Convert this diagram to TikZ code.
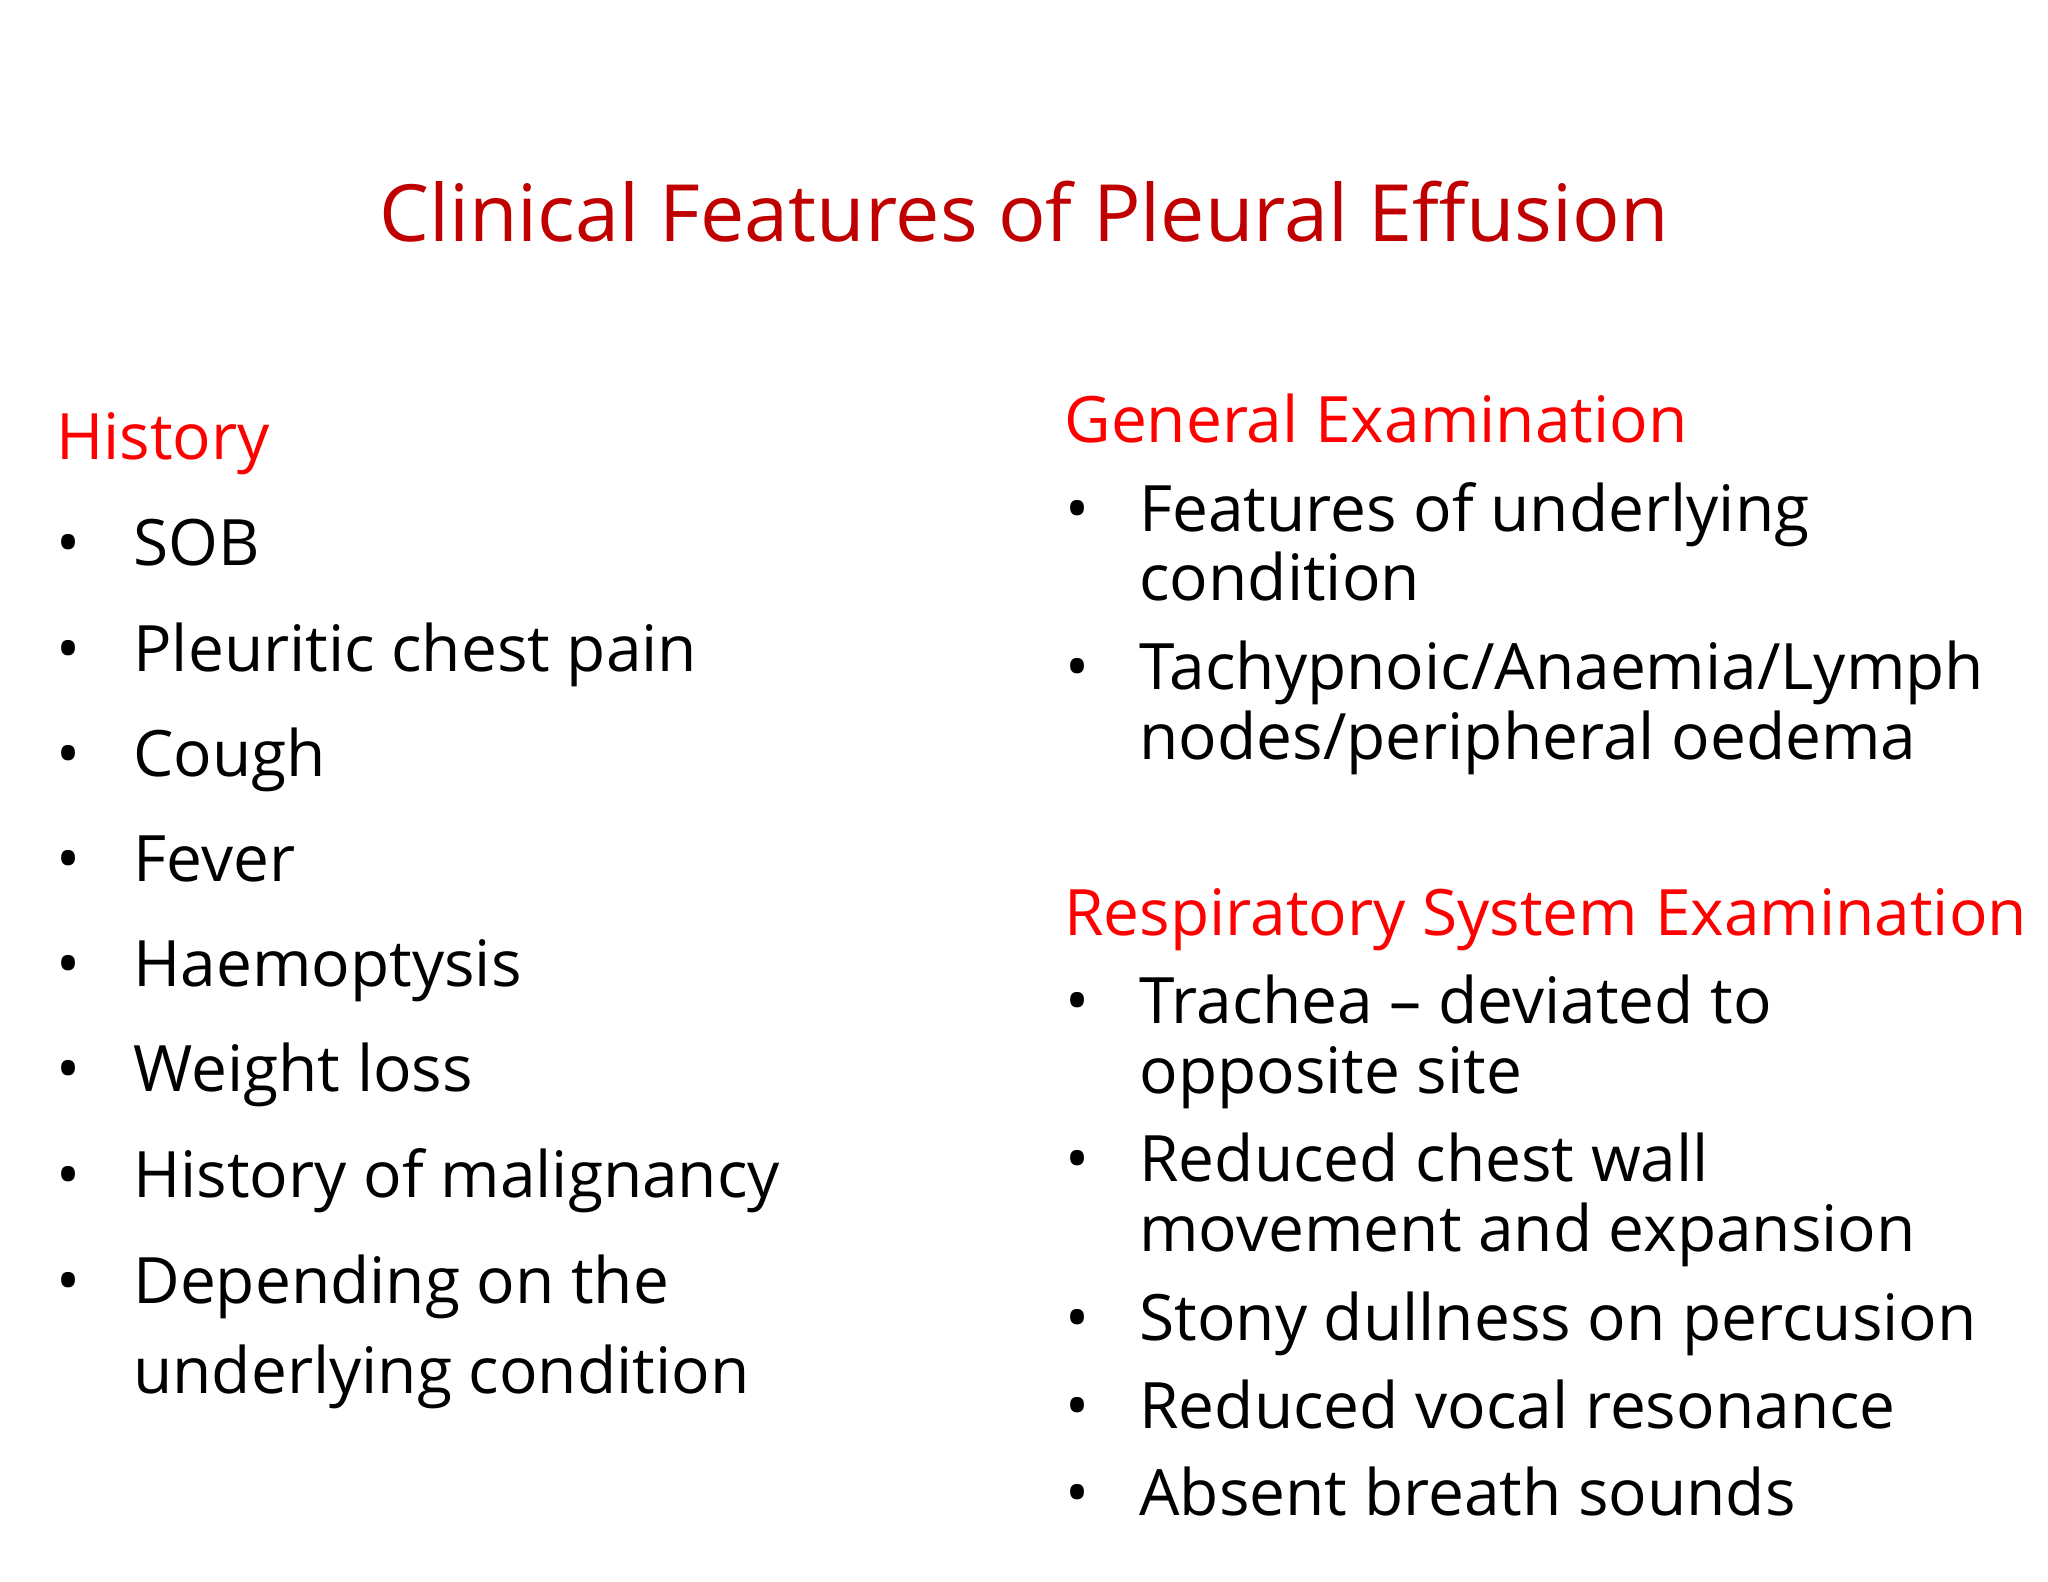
\documentclass[tikz,border=0pt]{standalone}
\usepackage{fontspec}
\setmainfont{Open Sans}
\definecolor{titlered}{HTML}{C00000}
\definecolor{headred}{HTML}{FF0000}
\begin{document}
\begin{tikzpicture}[x=0.5pt,y=-0.5pt,
  txt/.style={anchor=base west,inner sep=0pt,font=\fontsize{32}{36}\selectfont},
  head/.style={txt,text=headred},
  bul/.style={anchor=base west,inner sep=0pt,font=\fontsize{32}{36}\selectfont}]
\useasboundingbox (0,0) rectangle (2048,1582);
\node[anchor=base,inner sep=0pt,font=\fontsize{39.5}{42}\selectfont,text=titlered] (title) at (1024,242) {Clinical Features of Pleural Effusion};
% left column
\node[head] (hist) at (56,460) {History};
\foreach \y/\t [count=\i] in {566/SOB,671/Pleuritic chest pain,776/Cough,881/Fever,986/Haemoptysis,1091/Weight loss,1197/History of malignancy,1303/Depending on the}{
  \node[bul] (lb\i) at (56,\y) {\textbullet};
  \node[txt] (lt\i) at (133,\y) {\t};
}
\node[txt] (lt9) at (133,1393) {underlying condition};
% right column
\node[head] (gen) at (1064,443) {General Examination};
\node[bul] (rb1) at (1065,532) {\textbullet};
\node[txt] (rt1) at (1139,532) {Features of underlying};
\node[txt] (rt1b) at (1139,601) {condition};
\node[bul] (rb2) at (1065,689) {\textbullet};
\node[txt] (rt2) at (1139,689) {Tachypnoic/Anaemia/Lymph};
\node[txt] (rt2b) at (1139,759) {nodes/peripheral oedema};
\node[head] (resp) at (1064,935) {Respiratory System Examination};
\node[bul] (rb3) at (1065,1023) {\textbullet};
\node[txt] (rt3) at (1139,1023) {Trachea -- deviated to};
\node[txt] (rt3b) at (1139,1093) {opposite site};
\node[bul] (rb4) at (1065,1181) {\textbullet};
\node[txt] (rt4) at (1139,1181) {Reduced chest wall};
\node[txt] (rt4b) at (1139,1251) {movement and expansion};
\node[bul] (rb5) at (1065,1340) {\textbullet};
\node[txt] (rt5) at (1139,1340) {Stony dullness on percusion};
\node[bul] (rb6) at (1065,1428) {\textbullet};
\node[txt] (rt6) at (1139,1428) {Reduced vocal resonance};
\node[bul] (rb7) at (1065,1515) {\textbullet};
\node[txt] (rt7) at (1139,1515) {Absent breath sounds};
\end{tikzpicture}
\end{document}
